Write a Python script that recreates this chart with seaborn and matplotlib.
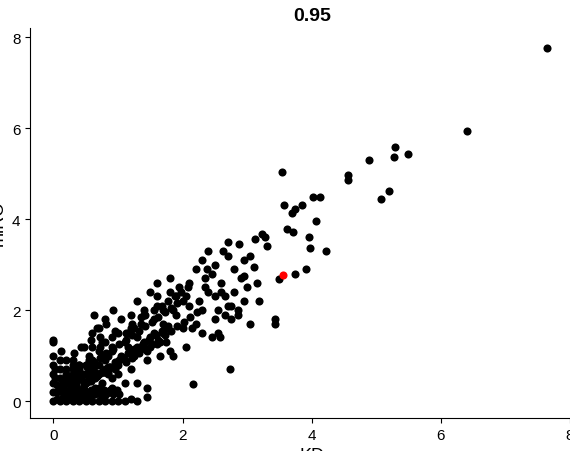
import seaborn as sns
import matplotlib.pyplot as plt
import pandas as pd

# KD vs miRC values (approximate)
kd = [
    # outliers / upper tail
    7.64, 6.40, 5.29, 5.27, 5.49, 4.88, 4.56, 4.56, 5.19, 5.07, 3.54, 4.13, 4.02,
    3.57, 3.85, 3.69, 3.74, 4.07, 3.62, 3.71, 3.97, 4.22, 3.96, 3.43, 3.43, 2.74,
    2.16, 3.49, 3.91, 3.74, 3.23, 3.12, 3.28, 3.05, 3.10, 3.30, 2.95, 2.88, 3.15,
    # mid band
    2.20, 2.30, 2.40, 2.50, 2.60, 2.70, 2.80, 2.90, 3.00, 2.25, 2.35, 2.45, 2.55,
    2.65, 2.75, 2.85, 2.95, 2.10, 2.20, 2.30, 2.40, 2.50, 2.60, 2.70, 2.80, 2.15,
    2.35, 2.55, 2.75, 2.05, 2.45, 2.65, 2.85, 3.05, 2.00, 2.10, 2.30, 2.50, 2.62,
    2.38, 2.70, 2.95, 3.18, 2.58,
    # dense core
    1.00, 1.10, 1.20, 1.30, 1.40, 1.50, 1.60, 1.70, 1.80, 1.90, 2.00, 1.05, 1.15,
    1.25, 1.35, 1.45, 1.55, 1.65, 1.75, 1.85, 1.95, 0.90, 1.00, 1.10, 1.20, 1.30,
    1.40, 1.50, 1.60, 1.70, 1.80, 0.95, 1.05, 1.15, 1.25, 1.35, 1.45, 1.55, 1.65,
    1.75, 1.20, 1.40, 1.60, 1.80, 1.30, 1.50, 1.70, 1.90, 1.85, 2.05,
    0.50, 0.60, 0.70, 0.80, 0.90, 0.55, 0.65, 0.75, 0.85, 0.95, 0.50, 0.60, 0.70,
    0.80, 0.90, 0.45, 0.55, 0.65, 0.75, 0.85, 0.40, 0.50, 0.60, 0.70, 0.80, 0.90,
    0.35, 0.45, 0.55, 0.65, 0.75, 0.85, 0.60, 0.70, 0.80, 0.90, 1.00, 1.10, 0.62,
    0.72, 0.82, 0.92, 1.02, 1.12, 1.22, 0.40, 0.48, 0.58, 0.68, 0.78, 1.30, 1.45,
    0.00, 0.10, 0.20, 0.30, 0.40, 0.50, 0.60, 0.70, 0.80, 0.90, 1.00, 1.10, 1.20,
    1.30, 1.45, 0.05, 0.15, 0.25, 0.35, 0.45, 0.05, 0.15, 0.25, 0.35, 0.05, 0.15,
    0.25, 0.35, 0.45, 0.00, 0.00, 0.00, 0.00, 0.00, 0.00, 0.00, 0.02, 0.02, 0.10,
    0.20, 0.30, 0.10, 0.20, 0.30, 0.40, 0.10, 0.20, 0.30, 0.15, 0.25, 0.35, 0.45,
    0.55, 0.65, 0.20, 0.30, 0.40, 0.50, 0.60, 0.08, 0.18, 0.28, 0.38, 0.48, 0.58,
    0.68, 0.78, 0.88, 0.98, 0.58, 0.42, 0.95, 1.35, 1.60, 0.72, 0.12, 0.32,
    # extra core fill
    0.55, 0.65, 0.75, 0.85, 0.95, 1.05, 1.15, 1.25, 0.52, 0.62, 0.72, 0.82, 0.92,
    1.02, 1.12, 1.22, 1.32, 1.42, 0.68, 0.78, 0.88, 0.98, 1.08, 1.18, 1.28, 1.38,
    1.48, 1.58, 0.28, 0.38, 0.48, 0.58, 0.68, 0.78, 0.88, 0.98, 1.08, 1.18, 1.28,
    1.38, 1.48, 1.58, 1.68, 1.78, 1.52, 1.62, 1.72, 1.82, 1.92, 1.42, 1.55, 1.68,
    1.78, 1.88, 1.98, 2.08, 0.22, 0.32, 0.42, 0.52, 0.62, 0.72, 0.82, 0.92, 1.02,
    0.15, 0.25, 0.35, 0.45, 0.55, 0.65, 0.75, 0.85, 0.30, 0.40, 0.50, 0.60, 0.70,
    1.12, 1.22, 1.32, 1.42, 1.52, 1.62, 1.72, 1.82, 1.92, 2.02, 2.12, 2.22,
]
mirc = [
    7.76, 5.93, 5.58, 5.36, 5.43, 5.30, 4.97, 4.86, 4.62, 4.44, 5.03, 4.48, 4.48,
    4.31, 4.31, 4.13, 4.22, 3.96, 3.78, 3.71, 3.36, 3.30, 3.60, 1.80, 1.69, 0.70,
    0.37, 2.68, 2.90, 2.79, 3.67, 3.56, 3.60, 3.20, 2.95, 3.40, 2.75, 3.45, 2.60,
    2.90, 3.10, 3.30, 3.00, 2.60, 3.20, 2.40, 2.70, 2.50, 2.20, 2.50, 2.80, 2.00,
    2.30, 2.10, 1.90, 2.20, 2.60, 1.70, 2.00, 2.40, 1.80, 2.40, 2.10, 2.90, 1.60,
    2.70, 1.50, 1.80, 2.30, 1.40, 1.90, 2.00, 1.70, 1.60, 2.10, 1.50, 2.30, 3.30,
    2.90, 3.50, 3.10, 2.20, 1.40,
    0.80, 1.30, 1.60, 1.20, 1.90, 1.40, 2.10, 1.70, 2.40, 1.90, 2.20, 1.00, 1.50,
    1.00, 1.70, 1.10, 1.80, 1.30, 1.60, 2.00, 2.50, 1.20, 1.50, 0.90, 1.90, 1.40,
    2.00, 1.20, 2.30, 1.50, 1.10, 0.70, 1.80, 1.20, 1.60, 1.20, 0.90, 1.50, 1.00,
    1.30, 0.70, 1.30, 2.60, 2.70, 2.20, 2.40, 2.00, 2.30, 1.00, 1.20,
    0.40, 0.70, 0.60, 0.90, 1.10, 1.00, 0.30, 1.30, 0.60, 0.80, 0.80, 0.50, 1.10,
    1.30, 0.50, 0.60, 0.90, 0.80, 0.40, 1.00, 0.20, 0.20, 1.20, 0.30, 0.70, 1.40,
    0.50, 0.30, 0.50, 0.50, 1.00, 0.20, 1.50, 1.60, 1.80, 0.30, 0.60, 0.40, 1.90,
    1.20, 1.70, 2.00, 0.90, 1.50, 1.70, 0.80, 1.20, 0.80, 1.60, 0.10, 0.40, 0.30,
    0.00, 0.00, 0.00, 0.00, 0.00, 0.00, 0.00, 0.00, 0.00, 0.00, 0.00, 0.00, 0.05,
    0.00, 0.10, 0.05, 0.05, 0.05, 0.05, 0.05, 0.20, 0.20, 0.20, 0.20, 0.35, 0.35,
    0.35, 0.35, 0.15, 0.20, 0.40, 0.60, 0.80, 1.00, 1.30, 1.35, 0.50, 0.70, 0.50,
    0.50, 0.50, 0.70, 0.70, 0.70, 0.70, 0.90, 0.90, 0.90, 0.10, 0.10, 0.10, 0.10,
    0.10, 0.15, 0.60, 0.60, 0.60, 0.60, 0.90, 0.25, 0.25, 0.25, 0.25, 0.25, 0.25,
    0.25, 0.25, 0.25, 0.25, 1.35, 1.20, 1.55, 1.85, 1.25, 1.40, 1.10, 1.05,
    0.45, 0.55, 0.65, 0.75, 0.85, 0.95, 1.05, 1.15, 0.75, 0.85, 0.95, 1.05, 1.15,
    1.25, 1.35, 1.45, 1.55, 1.65, 0.55, 0.65, 0.75, 0.85, 0.95, 1.05, 1.15, 1.25,
    1.35, 1.45, 0.45, 0.55, 0.35, 0.45, 0.55, 0.65, 0.75, 0.85, 0.95, 1.05, 1.15,
    1.25, 1.35, 1.45, 1.55, 1.65, 1.75, 1.85, 1.95, 2.05, 2.15, 1.90, 2.00, 2.10,
    2.20, 2.30, 2.40, 2.50, 0.15, 0.15, 0.15, 0.15, 0.15, 0.15, 0.15, 0.15, 0.15,
    0.45, 0.45, 0.45, 0.45, 0.65, 0.65, 0.65, 0.65, 0.80, 0.80, 0.80, 0.80, 0.80,
    0.85, 0.95, 1.05, 1.15, 1.25, 1.35, 1.45, 1.55, 1.65, 1.75, 1.85, 1.95,
]
highlight_kd = [3.55]
highlight_mirc = [2.77]

df = pd.DataFrame({"KD": kd, "miRC": mirc})
hl = pd.DataFrame({"KD": highlight_kd, "miRC": highlight_mirc})

sns.set_style("ticks")
plt.rcParams["font.family"] = ["Liberation Sans", "DejaVu Sans"]
fig = plt.figure(figsize=(5.7, 4.52), dpi=100)
ax = fig.add_axes([0.053, 0.073, 0.988, 0.863])
sns.scatterplot(data=df, x="KD", y="miRC", color="black", s=34, linewidth=0, ax=ax)
sns.scatterplot(data=hl, x="KD", y="miRC", color="red", s=34, linewidth=0, ax=ax)
ax.set_xlim(-0.36, 8.36)
ax.set_ylim(-0.37, 8.2)
ax.set_xticks([0, 2, 4, 6, 8])
ax.set_yticks([0, 2, 4, 6, 8])
ax.tick_params(labelsize=11, colors="black")
for sp in ax.spines.values():
    sp.set_color("black")
ax.set_xlabel("KD", fontsize=13, color="black")
ax.set_ylabel("miRC", fontsize=13, color="black")
ax.set_title("0.95", fontsize=14, weight="bold", color="black")
sns.despine(ax=ax)
fig.savefig("out.png", dpi=100)
plt.close()
